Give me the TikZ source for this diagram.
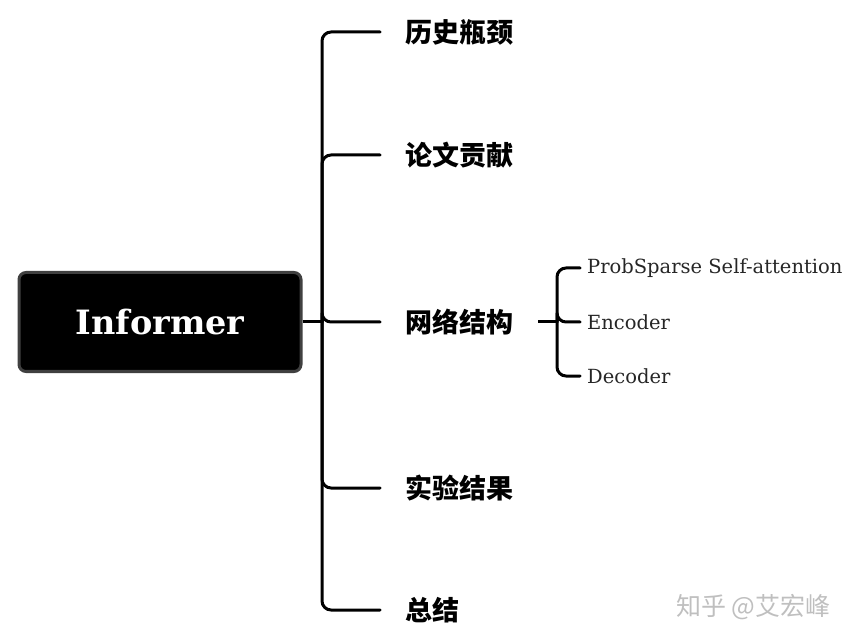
\documentclass[tikz,border=0pt]{standalone}
\usepackage{fontspec}
\setmainfont{DejaVu Serif}
\newfontfamily\cjk{Noto Sans CJK SC}
\begin{document}
\begin{tikzpicture}[x=1pt,y=-1pt,
  conn/.style={line width=3pt,rounded corners=9pt,line cap=round},
  lvl/.style={anchor=west,inner sep=0pt,font=\cjk\bfseries\fontsize{27}{29}\selectfont},
  sub/.style={anchor=west,inner sep=0pt,font=\fontsize{19.5}{21}\selectfont,text=black!85}]
\useasboundingbox (0,0) rectangle (857,644);
\node[draw=black!75,line width=3pt,fill=black,rounded corners=7pt,minimum width=282pt,minimum height=99pt,
  text=white,font=\bfseries\fontsize{33.5}{36}\selectfont] (root) at (160,322) {Informer};
\coordinate (j) at (322,322);
\node[lvl] (a) at (405,32) {历史瓶颈};
\node[lvl] (b) at (405,155) {论文贡献};
\node[lvl] (c) at (405,322) {网络结构};
\node[lvl] (d) at (405,488) {实验结果};
\node[lvl] (e) at (405,610) {总结};
\draw[line width=3pt] (root.east) -- (j);
\foreach \n in {a,b,c,d,e}{\draw[conn] (j) |- ([xshift=-25pt]\n.west);}
\coordinate (k) at (557,322);
\coordinate (ks) at (538,322);
\node[sub] (s1) at (587,268) {ProbSparse Self-attention};
\node[sub] (s2) at (587,322) {Encoder};
\node[sub] (s3) at (587,376) {Decoder};
\draw[line width=3pt] (ks) -- (k);
\foreach \n in {s1,s2,s3}{\draw[conn] (k) |- ([xshift=-7pt]\n.west);}
\node[anchor=west,inner sep=0pt,text=black!25,font=\cjk\fontsize{25}{27}\selectfont] (wm) at (676,607) {知乎 @艾宏峰};
\end{tikzpicture}
\end{document}
